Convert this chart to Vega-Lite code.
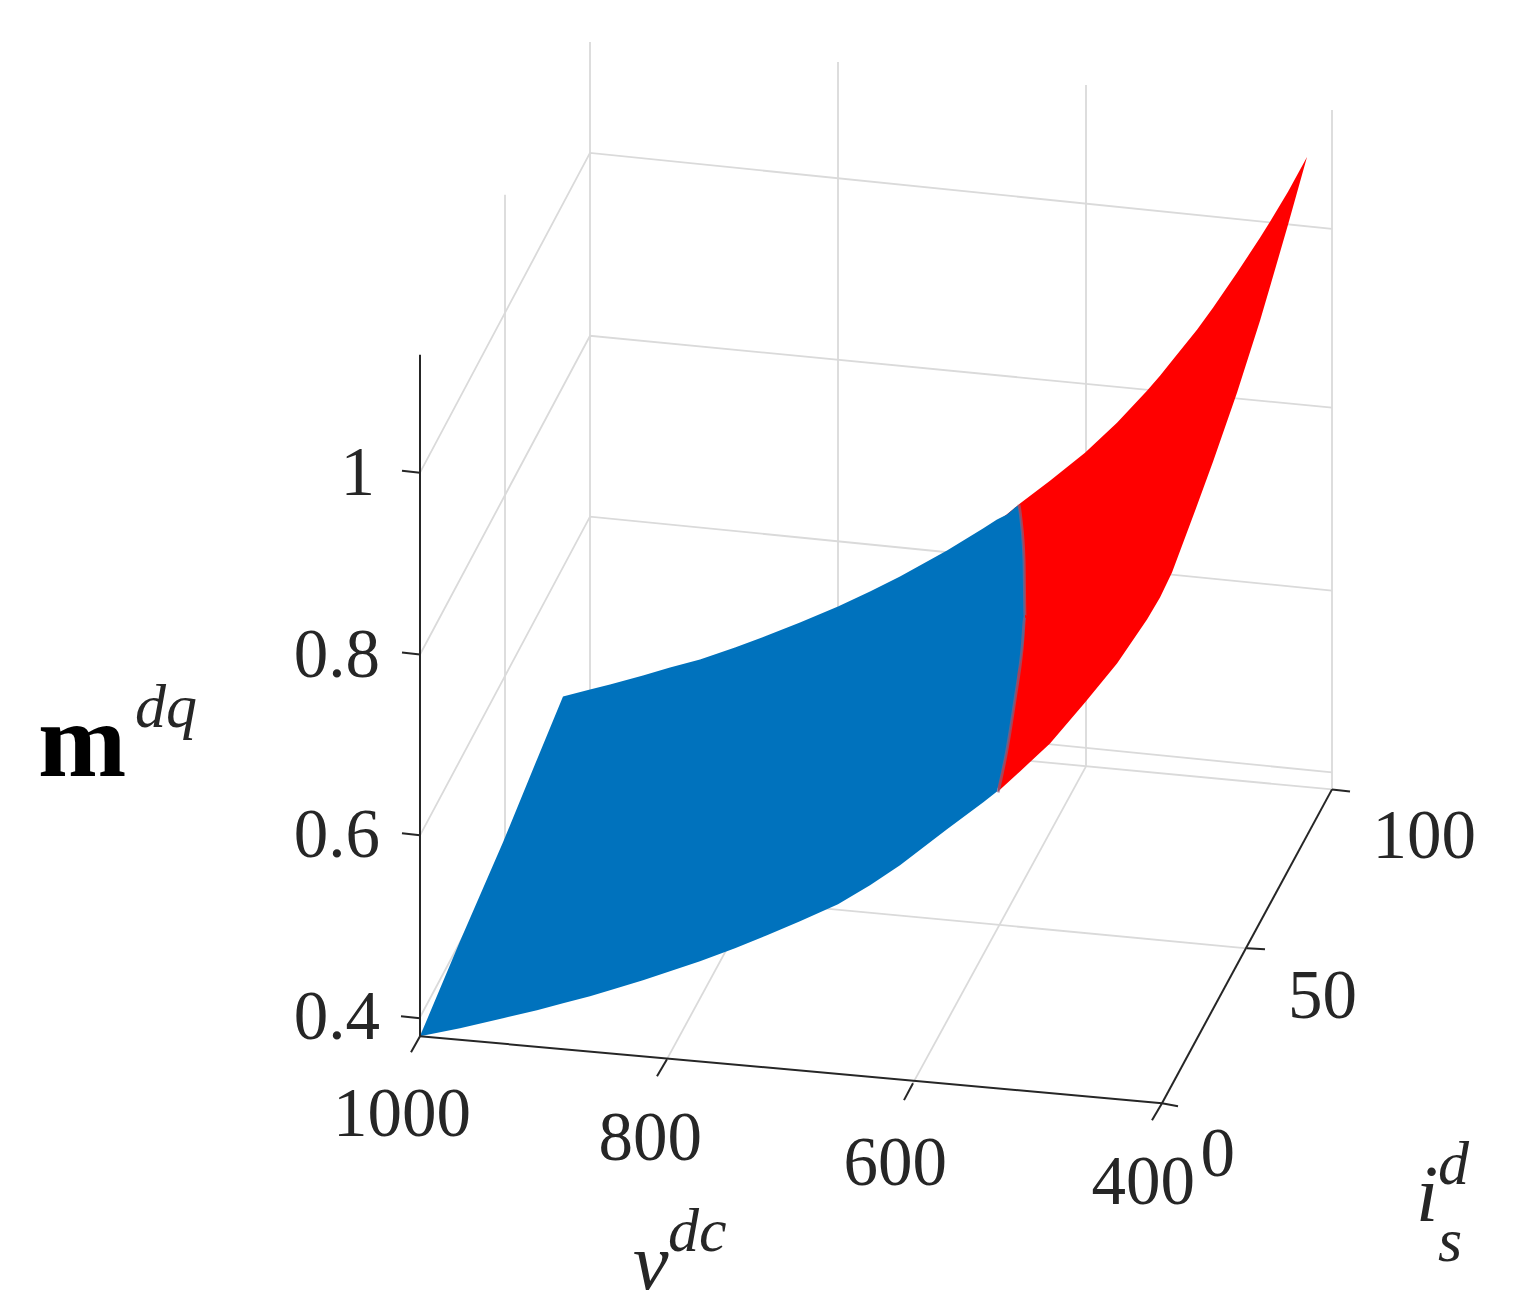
{"$schema":"https://vega.github.io/schema/vega-lite/v6.json","width":1526,"height":1305,"padding":0,"autosize":{"type":"fit","contains":"padding"},"background":"white","config":{"view":{"stroke":null}},
"datasets":{
"grid":[
{"id":"a","n":0,"x":590,"y":42},{"id":"a","n":1,"x":590,"y":720},
{"id":"b","n":0,"x":838,"y":62},{"id":"b","n":1,"x":838,"y":745},
{"id":"c","n":0,"x":1086,"y":85},{"id":"c","n":1,"x":1086,"y":767},
{"id":"d","n":0,"x":1332,"y":110},{"id":"d","n":1,"x":1332,"y":790},
{"id":"e","n":0,"x":505,"y":195},{"id":"e","n":1,"x":505,"y":879},
{"id":"f1","n":0,"x":420,"y":473},{"id":"f1","n":1,"x":590,"y":153},{"id":"f1","n":2,"x":1332,"y":229},
{"id":"f2","n":0,"x":420,"y":655},{"id":"f2","n":1,"x":590,"y":336},{"id":"f2","n":2,"x":1332,"y":408},
{"id":"f3","n":0,"x":420,"y":836},{"id":"f3","n":1,"x":590,"y":517},{"id":"f3","n":2,"x":1332,"y":591},
{"id":"f4","n":0,"x":420,"y":1018},{"id":"f4","n":1,"x":590,"y":699},{"id":"f4","n":2,"x":1332,"y":773},
{"id":"g1","n":0,"x":420,"y":1037},{"id":"g1","n":1,"x":590,"y":720},{"id":"g1","n":2,"x":1332,"y":790},
{"id":"g2","n":0,"x":505,"y":879},{"id":"g2","n":1,"x":1247,"y":949},
{"id":"g3","n":0,"x":667,"y":1060},{"id":"g3","n":1,"x":838,"y":745},
{"id":"g4","n":0,"x":913,"y":1084},{"id":"g4","n":1,"x":1086,"y":767}
],
"axes":[
{"id":"z","n":0,"x":420,"y":355},{"id":"z","n":1,"x":420,"y":1037},
{"id":"v","n":0,"x":420,"y":1037},{"id":"v","n":1,"x":1162,"y":1104},
{"id":"i","n":0,"x":1162,"y":1104},{"id":"i","n":1,"x":1332,"y":790},
{"id":"t1","n":0,"x":402,"y":471},{"id":"t1","n":1,"x":420,"y":473},
{"id":"t2","n":0,"x":402,"y":653},{"id":"t2","n":1,"x":420,"y":655},
{"id":"t3","n":0,"x":402,"y":834},{"id":"t3","n":1,"x":420,"y":836},
{"id":"t4","n":0,"x":401,"y":1017},{"id":"t4","n":1,"x":420,"y":1019},
{"id":"t5","n":0,"x":420,"y":1037},{"id":"t5","n":1,"x":411,"y":1053},
{"id":"t6","n":0,"x":667,"y":1060},{"id":"t6","n":1,"x":657,"y":1077},
{"id":"t7","n":0,"x":913,"y":1084},{"id":"t7","n":1,"x":904,"y":1101},
{"id":"t8","n":0,"x":1162,"y":1104},{"id":"t8","n":1,"x":1152,"y":1121},
{"id":"t9","n":0,"x":1162,"y":1104},{"id":"t9","n":1,"x":1178,"y":1107},
{"id":"t10","n":0,"x":1247,"y":949},{"id":"t10","n":1,"x":1265,"y":950},
{"id":"t11","n":0,"x":1332,"y":790},{"id":"t11","n":1,"x":1350,"y":792}
],
"red":[
{"x":998,"top":522,"bot":792},{"x":1020,"top":504,"bot":772},{"x":1050,"top":481,"bot":744},{"x":1085,"top":453,"bot":703},{"x":1117,"top":423,"bot":664},{"x":1147,"top":391,"bot":620},{"x":1160,"top":376,"bot":598},{"x":1172,"top":361,"bot":573},{"x":1197,"top":330,"bot":506},{"x":1213,"top":308,"bot":462},{"x":1237,"top":273,"bot":393},{"x":1260,"top":238,"bot":321},{"x":1270,"top":222,"bot":287},{"x":1288,"top":192,"bot":225},{"x":1307,"top":157,"bot":157}
],
"blue":[
{"x":420,"top":1037,"bot":1037},{"x":460,"top":942,"bot":1029},{"x":503,"top":843,"bot":1019},{"x":537,"top":760,"bot":1011},{"x":563,"top":697,"bot":1004},{"x":590,"top":690,"bot":997},{"x":610,"top":685,"bot":991},{"x":643,"top":676,"bot":981},{"x":670,"top":668,"bot":972},{"x":700,"top":660,"bot":962},{"x":735,"top":648,"bot":949},{"x":767,"top":636,"bot":936},{"x":800,"top":623,"bot":922},{"x":838,"top":607,"bot":905},{"x":870,"top":592,"bot":886},{"x":900,"top":577,"bot":866},{"x":947,"top":551,"bot":830},{"x":983,"top":529,"bot":803},{"x":997,"top":520,"bot":792},{"x":1007,"top":515,"bot":750},{"x":1015,"top":508,"bot":700},{"x":1018,"top":506,"bot":672},{"x":1021,"top":520,"bot":660},{"x":1024,"top":560,"bot":640},{"x":1025,"top":617,"bot":617}
],
"seam":[
{"n":0,"x":1019,"y":505},{"n":1,"x":1021,"y":520},{"n":2,"x":1024,"y":560},{"n":3,"x":1025,"y":617},{"n":4,"x":1022,"y":650},{"n":5,"x":1015,"y":700},{"n":6,"x":1007,"y":750},{"n":7,"x":998,"y":793}
],
"ticks":[
{"x":375,"y":495,"t":"1"},{"x":380,"y":678,"t":"0.8"},{"x":380,"y":858,"t":"0.6"},{"x":380,"y":1040,"t":"0.4"},
{"x":471,"y":1137,"t":"1000"},{"x":702,"y":1161,"t":"800"},{"x":947,"y":1186,"t":"600"},{"x":1195,"y":1205,"t":"400"},
{"x":1235,"y":1177,"t":"0"},{"x":1357,"y":1019,"t":"50"},{"x":1476,"y":859,"t":"100"}
],
"sup":[
{"x":135,"y":728,"t":"dq"},{"x":668,"y":1252,"t":"dc"},{"x":1438,"y":1185,"t":"d"},{"x":1438,"y":1262,"t":"s"}
]
},
"encoding":{
"x":{"field":"x","type":"quantitative","scale":{"domain":[0,1526],"nice":false,"zero":false},"axis":null},
"y":{"field":"y","type":"quantitative","scale":{"domain":[1305,0],"nice":false,"zero":false},"axis":null}
},
"layer":[
{"data":{"name":"grid"},"mark":{"type":"line","color":"#dadada","strokeWidth":1.8},"encoding":{"detail":{"field":"id"},"order":{"field":"n","type":"quantitative"}}},
{"data":{"name":"red"},"mark":{"type":"area","color":"#ff0000"},"encoding":{"y":{"field":"top","type":"quantitative","scale":{"domain":[1305,0],"nice":false,"zero":false},"axis":null},"y2":{"field":"bot"}}},
{"data":{"name":"blue"},"mark":{"type":"area","color":"#0072bd"},"encoding":{"y":{"field":"top","type":"quantitative","scale":{"domain":[1305,0],"nice":false,"zero":false},"axis":null},"y2":{"field":"bot"}}},
{"data":{"name":"seam"},"mark":{"type":"line","color":"#86607f","strokeWidth":3,"opacity":0.7,"interpolate":"monotone"},"encoding":{"order":{"field":"n","type":"quantitative"}}},
{"data":{"name":"axes"},"mark":{"type":"line","color":"#262626","strokeWidth":2},"encoding":{"detail":{"field":"id"},"order":{"field":"n","type":"quantitative"}}},
{"data":{"name":"ticks"},"mark":{"type":"text","font":"Liberation Serif","fontSize":69,"color":"#262626","align":"right","baseline":"alphabetic"},"encoding":{"text":{"field":"t"}}},
{"data":{"name":"sup"},"mark":{"type":"text","font":"Liberation Serif","fontStyle":"italic","fontSize":62,"color":"#262626","align":"left","baseline":"alphabetic"},"encoding":{"text":{"field":"t"}}},
{"data":{"values":[{"x":633,"y":1290,"t":"v"},{"x":1416,"y":1222,"t":"i"}]},"mark":{"type":"text","font":"Liberation Serif","fontStyle":"italic","fontSize":80,"color":"#262626","align":"left","baseline":"alphabetic"},"encoding":{"text":{"field":"t"}}},
{"data":{"values":[{"x":38,"y":777,"t":"m"}]},"mark":{"type":"text","font":"Liberation Serif","fontWeight":"bold","fontSize":106,"color":"#000000","align":"left","baseline":"alphabetic"},"encoding":{"text":{"field":"t"}}}
]}
